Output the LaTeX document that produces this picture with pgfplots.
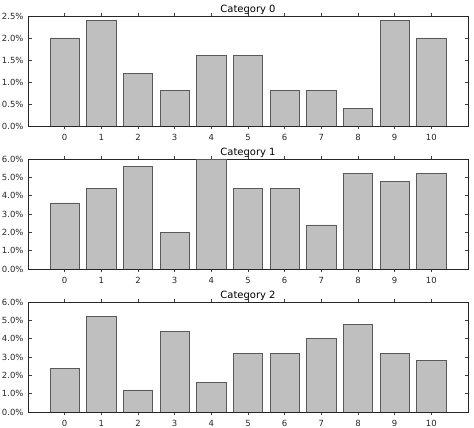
\documentclass[border=0pt]{standalone}
\usepackage{pgfplots}
\pgfplotsset{compat=1.18}
\usepackage{fontspec}
\setmainfont{DejaVu Sans}

\definecolor{barfill}{HTML}{BFBFBF}
\definecolor{baredge}{HTML}{5A5A5A}

\pgfplotsset{
  panel/.style={
    scale only axis,
    width=440bp, height=110bp,
    anchor=north west,
    xmin=-1, xmax=11,
    ymin=0,
    xtick={0,...,10},
    xtick align=inside, ytick align=inside,
    xtick pos=both, ytick pos=both,
    major tick length=3.5bp,
    tick style={black!75, line width=0.4pt},
    axis line style={black!85, line width=0.8pt},
    ybar, bar width=0.8,
    /pgf/number format/assume math mode=true,
    tick label style={font=\fontsize{8.5}{9}\selectfont, text=black!85},
    xticklabel style={text height=6.5bp, text depth=0pt, yshift=-1bp},
    yticklabel style={xshift=-1bp},
    yticklabel={\pgfmathprintnumber[fixed,fixed zerofill,precision=1]{\tick}\%},
    every axis title shift=0pt,
    title style={font=\fontsize{10}{11}\selectfont, inner sep=1.5bp},
  },
  bars/.style={fill=barfill, draw=baredge, line width=0.8pt},
}

\begin{document}
\begin{tikzpicture}
\path[use as bounding box] (0,-428bp) rectangle (474bp,0);

% Category 0
\begin{axis}[panel, at={(28bp,-16bp)}, ymax=2.5, ytick={0,0.5,...,2.5},
  title={Category 0}]
\addplot[bars] coordinates {
  (0,2.0) (1,2.4) (2,1.2) (3,0.8) (4,1.6) (5,1.6)
  (6,0.8) (7,0.8) (8,0.4) (9,2.4) (10,2.0)};
\end{axis}

% Category 1
\begin{axis}[panel, at={(28bp,-159bp)}, ymax=6, ytick={0,1,...,6},
  title={Category 1}]
\addplot[bars] coordinates {
  (0,3.6) (1,4.4) (2,5.6) (3,2.0) (4,6.0) (5,4.4)
  (6,4.4) (7,2.4) (8,5.2) (9,4.8) (10,5.2)};
\end{axis}

% Category 2
\begin{axis}[panel, at={(28bp,-302bp)}, ymax=6, ytick={0,1,...,6},
  title={Category 2}]
\addplot[bars] coordinates {
  (0,2.4) (1,5.2) (2,1.2) (3,4.4) (4,1.6) (5,3.2)
  (6,3.2) (7,4.0) (8,4.8) (9,3.2) (10,2.8)};
\end{axis}
\end{tikzpicture}
\end{document}
